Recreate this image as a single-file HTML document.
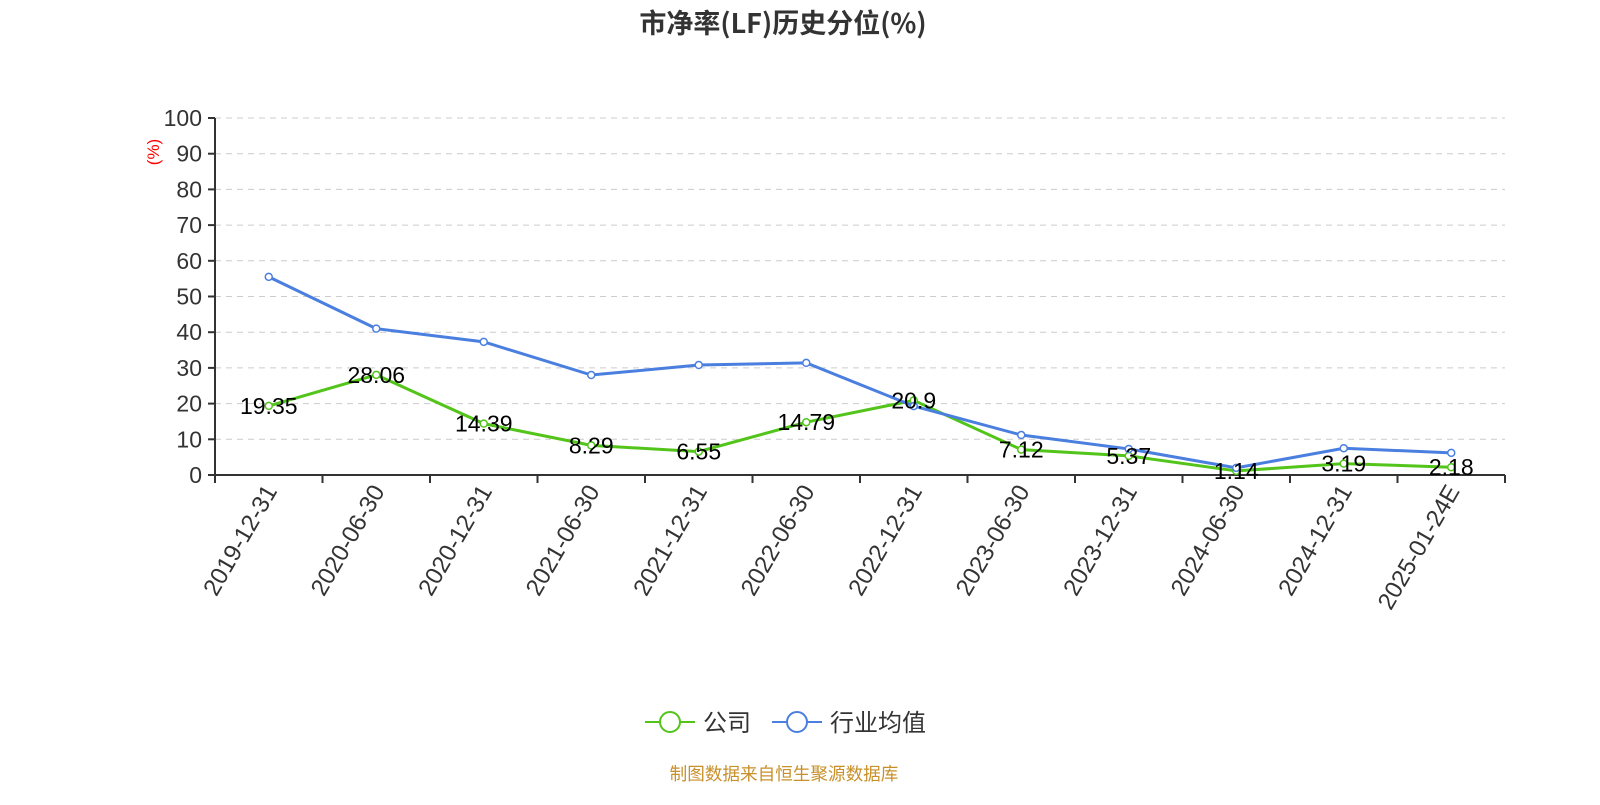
<!DOCTYPE html>
<html><head><meta charset="utf-8"><style>
body{margin:0;background:#fff;}
svg text{font-family:"Liberation Sans","Noto Sans CJK SC",sans-serif;}
</style></head><body>
<svg id="c" width="1600" height="800" viewBox="0 0 1600 800">
<text x="783" y="33" text-anchor="middle" font-size="27" font-weight="bold" fill="#333" style="font-family:'Noto Sans CJK SC','Liberation Sans',sans-serif">市净率(LF)历史分位(%)</text>
<text transform="translate(159,152) rotate(-90)" text-anchor="middle" font-size="17" fill="#f00">(%)</text>
<g id="grid"></g><g id="axes"></g><g id="series"></g>
<g>
<g><line x1="645" y1="722" x2="695" y2="722" stroke="#52c41a" stroke-width="2"/><circle cx="670" cy="722" r="10" fill="#fff" stroke="#52c41a" stroke-width="2"/><text x="703" y="731" font-size="24" fill="#333">公司</text></g>
<g><line x1="772" y1="722" x2="822" y2="722" stroke="#4a7fe0" stroke-width="2"/><circle cx="797" cy="722" r="10" fill="#fff" stroke="#4a7fe0" stroke-width="2"/><text x="830" y="731" font-size="24" fill="#333">行业均值</text></g>
</g>
<text x="784" y="780" text-anchor="middle" font-size="17.6" fill="#c8902a">制图数据来自恒生聚源数据库</text>
</svg>
<script>
const categories=["2019-12-31","2020-06-30","2020-12-31","2021-06-30","2021-12-31","2022-06-30","2022-12-31","2023-06-30","2023-12-31","2024-06-30","2024-12-31","2025-01-24E"];
const companyValues=[19.35,28.06,14.39,8.29,6.55,14.79,20.9,7.12,5.37,1.14,3.19,2.18];
const industryValues=[55.5,41,37.3,28,30.8,31.4,19.3,11.2,7.3,2,7.5,6.2];
const yTicks=[0,10,20,30,40,50,60,70,80,90,100];
const NS="http://www.w3.org/2000/svg";
const x0=215,x1=1505,y0=475,y1=118,bw=(x1-x0)/categories.length;
const X=i=>x0+bw*(i+0.5), Y=v=>y0-(y0-y1)*v/100;
function mk(t,a,p){const e=document.createElementNS(NS,t);for(const k in a)e.setAttribute(k,a[k]);p.appendChild(e);return e;}
const grid=document.getElementById('grid'),axes=document.getElementById('axes'),ser=document.getElementById('series');
yTicks.forEach(t=>{
 if(t>0){const g=mk('line',{x1:x0,x2:x1,y1:Y(t),y2:Y(t),stroke:'#ccc','stroke-dasharray':'6,5'},grid);
 
 }
 const tk=mk('line',{x1:x0-7,x2:x0,y1:Y(t),y2:Y(t),stroke:'#333','stroke-width':2},axes);
 
 
 const l=mk('text',{x:x0-13,y:Y(t)+8,'text-anchor':'end','font-size':23,fill:'#333'},axes);l.textContent=t;
 
 
});
const ya=mk('line',{x1:x0,x2:x0,y1:y1,y2:y0,stroke:'#333','stroke-width':2},axes);


const xa=mk('line',{x1:x0,x2:x1,y1:y0,y2:y0,stroke:'#333','stroke-width':2},axes);


for(let i=0;i<=categories.length;i++){const t=mk('line',{x1:x0+bw*i,x2:x0+bw*i,y1:y0,y2:y0+8,stroke:'#333','stroke-width':2},axes);
 
 }
categories.forEach((c,i)=>{const t=mk('text',{transform:`translate(${X(i)+9},${y0+16}) rotate(-60)`,'text-anchor':'end','font-size':24,fill:'#333'},axes);t.textContent=c;
 
 });
function series(vals,color,name){
 const g=mk('g',{},ser);
 
 
 const p=mk('polyline',{points:vals.map((v,i)=>X(i)+','+Y(v)).join(' '),fill:'none',stroke:color,'stroke-width':3},g);
 
 
 vals.forEach((v,i)=>{const c=mk('circle',{cx:X(i),cy:Y(v),r:3.5,fill:'#fff',stroke:color,'stroke-width':1.5},g);
  
  });
}
series(companyValues,'#52c41a','company-series');
series(industryValues,'#4a7fe0','industry-series');
companyValues.forEach((v,i)=>{const t=mk('text',{x:X(i),y:Y(v)+8,'text-anchor':'middle','font-size':23,fill:'#000'},ser);t.textContent=v;
 
 });
</script>
</body></html>
